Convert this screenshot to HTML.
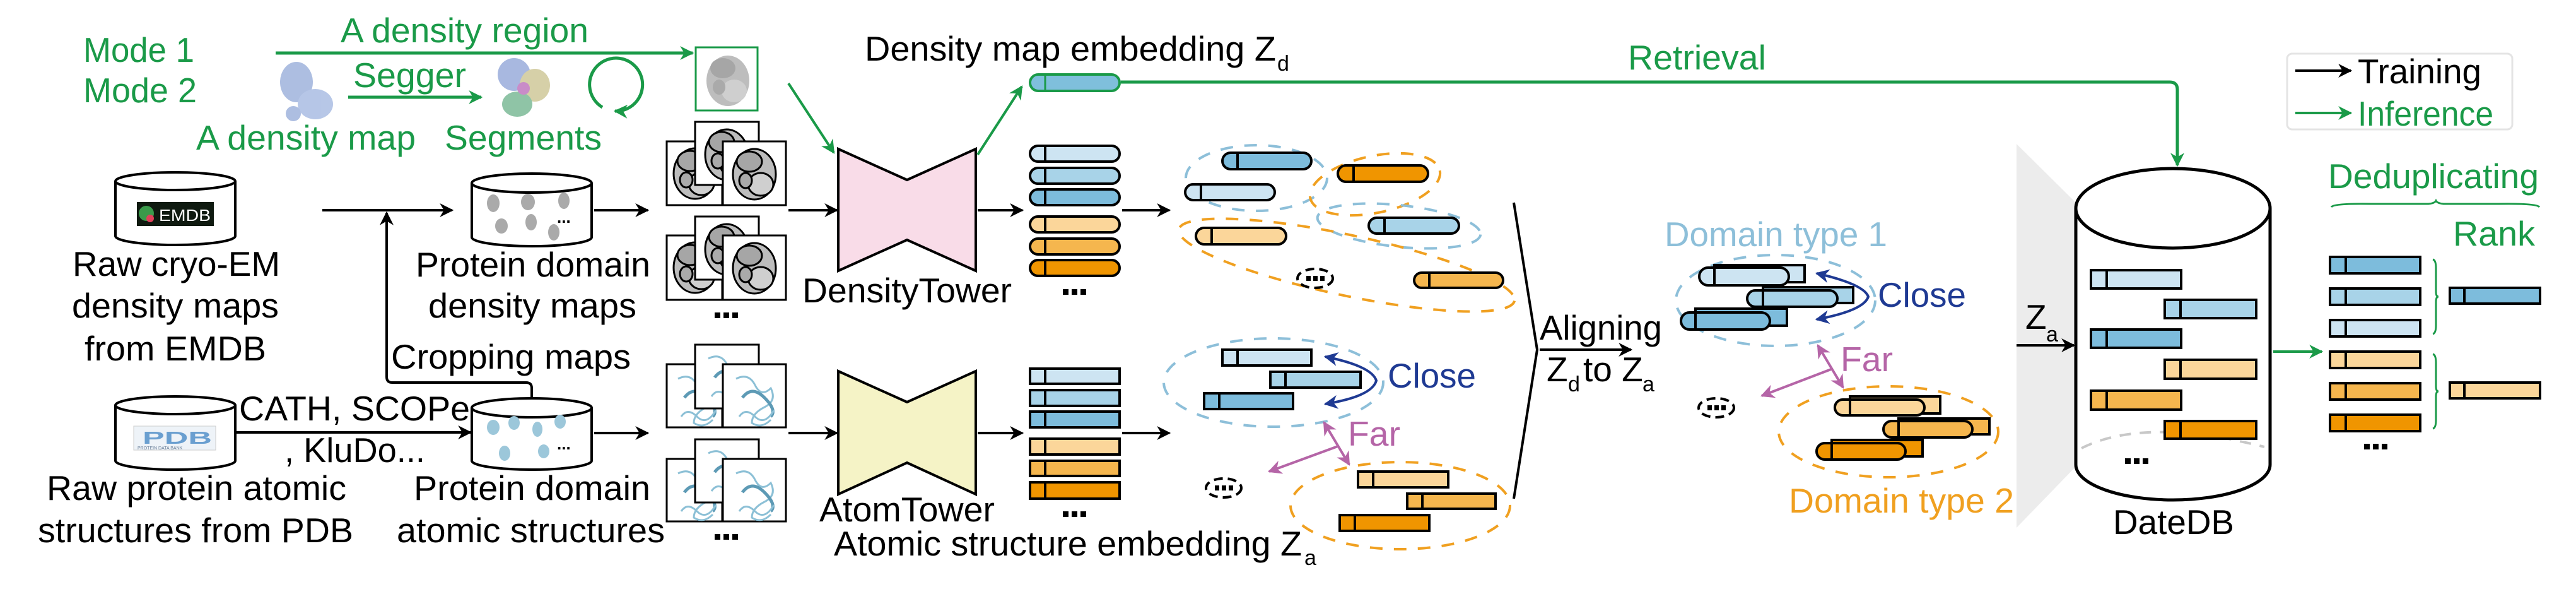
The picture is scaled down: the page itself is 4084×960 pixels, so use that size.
<!DOCTYPE html>
<html><head><meta charset="utf-8"><style>
html,body{margin:0;padding:0;background:#fff;}
svg{display:block;}
text{font-family:"Liberation Sans",Arial,sans-serif;}
</style></head><body>
<svg width="4084" height="960" viewBox="0 0 4084 960" xmlns="http://www.w3.org/2000/svg">
<defs>
<marker id="ab" viewBox="0 0 10 10" refX="9" refY="5" markerWidth="22" markerHeight="22" orient="auto-start-reverse" markerUnits="userSpaceOnUse"><path d="M0,0 L10,5 L0,10 L3,5Z" fill="#000"/></marker>
<marker id="ag" viewBox="0 0 10 10" refX="9" refY="5" markerWidth="22" markerHeight="22" orient="auto-start-reverse" markerUnits="userSpaceOnUse"><path d="M0,0 L10,5 L0,10 L3,5Z" fill="#1a9a48"/></marker>
<marker id="an" viewBox="0 0 10 10" refX="9" refY="5" markerWidth="22" markerHeight="22" orient="auto-start-reverse" markerUnits="userSpaceOnUse"><path d="M0,0 L10,5 L0,10 L3,5Z" fill="#1f3a93"/></marker>
<marker id="ap" viewBox="0 0 10 10" refX="9" refY="5" markerWidth="22" markerHeight="22" orient="auto-start-reverse" markerUnits="userSpaceOnUse"><path d="M0,0 L10,5 L0,10 L3,5Z" fill="#b565a7"/></marker>
<g id="blob"><ellipse cx="44" cy="50" rx="34" ry="40" fill="#bdbdbd"/><ellipse cx="36" cy="30" rx="20" ry="16" fill="#a6a6a6"/><ellipse cx="54" cy="66" rx="20" ry="18" fill="#cfcfcf"/><ellipse cx="30" cy="60" rx="10" ry="12" fill="#aaaaaa"/></g>
<g id="ribbon" fill="none" stroke="#8cc0d6" stroke-width="3"><path d="M15,20 q20,-10 30,10 t25,5 q10,20 -10,30 t-20,25 q15,10 30,-5"/><path d="M25,50 q15,-20 35,0 t10,30" stroke="#5d9ab5" stroke-width="5"/><path d="M20,80 q10,-15 25,0 t30,-10"/></g>
</defs>

<g fill="#1a9a48">
<text x="132" y="98" font-size="55" textLength="176" lengthAdjust="spacingAndGlyphs">Mode 1</text>
<text x="132" y="162" font-size="55" textLength="180" lengthAdjust="spacingAndGlyphs">Mode 2</text>
<text x="540" y="67" font-size="55" textLength="393" lengthAdjust="spacingAndGlyphs">A density region</text>
<text x="560" y="138" font-size="55" textLength="179" lengthAdjust="spacingAndGlyphs">Segger</text>
<text x="311" y="237" font-size="55" textLength="348" lengthAdjust="spacingAndGlyphs">A density map</text>
<text x="705" y="237" font-size="55" textLength="249" lengthAdjust="spacingAndGlyphs">Segments</text>
</g>
<line x1="437" y1="84" x2="1098" y2="84" stroke="#1a9a48" stroke-width="5" marker-end="url(#ag)"/>
<line x1="552" y1="154" x2="763" y2="154" stroke="#1a9a48" stroke-width="5" marker-end="url(#ag)"/>
<g opacity="0.85"><ellipse cx="470" cy="130" rx="26" ry="32" fill="#9fb3dc"/><ellipse cx="500" cy="165" rx="28" ry="24" fill="#aabde3"/><ellipse cx="465" cy="180" rx="12" ry="12" fill="#9fb3dc"/></g>
<g><ellipse cx="815" cy="118" rx="26" ry="26" fill="#a8b8e0"/><ellipse cx="848" cy="135" rx="24" ry="26" fill="#d6d0a8"/><ellipse cx="820" cy="165" rx="24" ry="20" fill="#8fc4a6"/><ellipse cx="830" cy="140" rx="10" ry="10" fill="#c98cc8"/></g>
<path d="M955,170 A42,42 0 1 1 975,176" fill="none" stroke="#1a9a48" stroke-width="5" marker-end="url(#ag)"/>
<rect x="1103" y="75" width="98" height="100" fill="#fff" stroke="#1a9a48" stroke-width="3"/>
<use href="#blob" x="1110" y="78"/>
<line x1="1250" y1="132" x2="1322" y2="242" stroke="#1a9a48" stroke-width="4" marker-end="url(#ag)"/>

<g stroke="#000" stroke-width="4" fill="#fff">
<path d="M183,287 L183,374 A95,14 0 0 0 373,374 L373,287"/>
<ellipse cx="278" cy="287" rx="95" ry="14"/>
</g>
<rect x="217" y="320" width="122" height="38" fill="#0f1a10"/>
<text x="252" y="350" font-size="26" fill="#fff" textLength="82" lengthAdjust="spacingAndGlyphs">EMDB</text>
<circle cx="232" cy="338" r="12" fill="#3a9a4a"/><circle cx="238" cy="346" r="6" fill="#e0405a"/>
<g stroke="#000" stroke-width="4" fill="#fff">
<path d="M183,642 L183,730 A95,14 0 0 0 373,730 L373,642"/>
<ellipse cx="278" cy="642" rx="95" ry="14"/>
</g>
<rect x="212" y="675" width="130" height="38" fill="#eef3f8" stroke="#ccc" stroke-width="1"/>
<text x="226" y="703" font-size="28" font-weight="bold" fill="#6a9fd0" textLength="110" lengthAdjust="spacingAndGlyphs">PDB</text>
<text x="218" y="712" font-size="7" fill="#6a7f99">PROTEIN DATA BANK</text>

<g stroke="#000" stroke-width="4" fill="#fff">
<path d="M748,290 L748,376 A95,14 0 0 0 938,376 L938,290"/>
<ellipse cx="843" cy="290" rx="95" ry="15"/>
<path d="M748,646 L748,730 A95,14 0 0 0 938,730 L938,646"/>
<ellipse cx="843" cy="646" rx="95" ry="15"/>
</g>
<g fill="#aaa"><ellipse cx="782" cy="322" rx="10" ry="14"/><ellipse cx="837" cy="320" rx="11" ry="13"/><ellipse cx="894" cy="318" rx="9" ry="13"/><ellipse cx="795" cy="358" rx="10" ry="12"/><ellipse cx="842" cy="352" rx="9" ry="13"/><ellipse cx="878" cy="368" rx="9" ry="13"/></g>
<g fill="#9cc7da"><ellipse cx="782" cy="677" rx="10" ry="12"/><ellipse cx="815" cy="670" rx="9" ry="11"/><ellipse cx="852" cy="680" rx="8" ry="12"/><ellipse cx="888" cy="668" rx="9" ry="11"/><ellipse cx="800" cy="718" rx="9" ry="12"/><ellipse cx="862" cy="715" rx="9" ry="11"/></g>
<text x="883" y="353" font-size="26" font-weight="bold">...</text>
<text x="883" y="712" font-size="26" font-weight="bold">...</text>

<g fill="#000" font-size="55">
<text x="115" y="437" textLength="329" lengthAdjust="spacingAndGlyphs">Raw cryo-EM</text>
<text x="114" y="503" textLength="328" lengthAdjust="spacingAndGlyphs">density maps</text>
<text x="134" y="571" textLength="288" lengthAdjust="spacingAndGlyphs">from EMDB</text>
<text x="659" y="438" textLength="372" lengthAdjust="spacingAndGlyphs">Protein domain</text>
<text x="679" y="503" textLength="330" lengthAdjust="spacingAndGlyphs">density maps</text>
<text x="620" y="584" textLength="380" lengthAdjust="spacingAndGlyphs">Cropping maps</text>
<text x="379" y="666" textLength="366" lengthAdjust="spacingAndGlyphs">CATH, SCOPe</text>
<text x="451" y="732" textLength="223" lengthAdjust="spacingAndGlyphs">, KluDo...</text>
<text x="74" y="792" textLength="475" lengthAdjust="spacingAndGlyphs">Raw protein atomic</text>
<text x="60" y="859" textLength="500" lengthAdjust="spacingAndGlyphs">structures from PDB</text>
<text x="656" y="792" textLength="375" lengthAdjust="spacingAndGlyphs">Protein domain</text>
<text x="629" y="859" textLength="425" lengthAdjust="spacingAndGlyphs">atomic structures</text>
</g>
<g stroke="#000" stroke-width="4" fill="none">
<line x1="511" y1="333" x2="717" y2="333" marker-end="url(#ab)"/>
<path d="M843,631 L843,615 Q843,606 834,606 L622,606 Q613,606 613,597 L613,337" marker-end="url(#ab)"/>
<line x1="373" y1="685" x2="746" y2="685" marker-end="url(#ab)"/>
<line x1="942" y1="333" x2="1027" y2="333" marker-end="url(#ab)"/>
<line x1="942" y1="686" x2="1027" y2="686" marker-end="url(#ab)"/>
<line x1="1250" y1="333" x2="1327" y2="333" marker-end="url(#ab)"/>
<line x1="1250" y1="686" x2="1327" y2="686" marker-end="url(#ab)"/>
<line x1="1550" y1="333" x2="1621" y2="333" marker-end="url(#ab)"/>
<line x1="1550" y1="686" x2="1621" y2="686" marker-end="url(#ab)"/>
<line x1="1779" y1="333" x2="1854" y2="333" marker-end="url(#ab)"/>
<line x1="1779" y1="686" x2="1854" y2="686" marker-end="url(#ab)"/>
</g>

<g stroke="#000" stroke-width="3" fill="#fff">
<rect x="1057" y="224" width="88" height="101"/><use href="#blob" x="1058" y="225"/>
<rect x="1102" y="193" width="101" height="100" fill="#fff"/><use href="#blob" x="1108" y="195"/>
<rect x="1146" y="224" width="100" height="101" fill="#fff"/><use href="#blob" x="1152" y="226"/>
<rect x="1057" y="373" width="88" height="102"/><use href="#blob" x="1058" y="374"/>
<rect x="1102" y="343" width="101" height="100" fill="#fff"/><use href="#blob" x="1108" y="345"/>
<rect x="1146" y="373" width="100" height="102" fill="#fff"/><use href="#blob" x="1152" y="375"/>
<rect x="1057" y="577" width="88" height="100"/><use href="#ribbon" x="1060" y="580"/>
<rect x="1102" y="546" width="101" height="101" fill="#fff"/><use href="#ribbon" x="1108" y="548"/>
<rect x="1146" y="577" width="100" height="100" fill="#fff"/><use href="#ribbon" x="1152" y="580"/>
<rect x="1057" y="727" width="88" height="99"/><use href="#ribbon" x="1060" y="730"/>
<rect x="1102" y="696" width="101" height="100" fill="#fff"/><use href="#ribbon" x="1108" y="698"/>
<rect x="1146" y="727" width="100" height="99" fill="#fff"/><use href="#ribbon" x="1152" y="730"/>
</g>
<g fill="#000"><rect x="1133" y="495" width="9" height="9"/><rect x="1147" y="495" width="9" height="9"/><rect x="1161" y="495" width="9" height="9"/>
<rect x="1133" y="846" width="9" height="9"/><rect x="1147" y="846" width="9" height="9"/><rect x="1161" y="846" width="9" height="9"/></g>

<polygon points="1329,236 1438,285 1547,236 1547,429 1438,380 1329,429" fill="#f9dce8" stroke="#000" stroke-width="4"/>
<polygon points="1329,588 1438,637 1547,588 1547,783 1438,733 1329,783" fill="#f5f3c6" stroke="#000" stroke-width="4"/>
<text x="1272" y="479" font-size="55" textLength="332" lengthAdjust="spacingAndGlyphs">DensityTower</text>
<text x="1299" y="826" font-size="55" textLength="278" lengthAdjust="spacingAndGlyphs">AtomTower</text>
<line x1="1550" y1="245" x2="1620" y2="137" stroke="#1a9a48" stroke-width="4" marker-end="url(#ag)"/>

<text x="1371" y="96" font-size="55" textLength="652" lengthAdjust="spacingAndGlyphs">Density map embedding Z</text>
<text x="2025" y="112" font-size="34">d</text>
<rect x="1633" y="118" width="142" height="26" rx="13" fill="#7fbfdc" stroke="#1a9a48" stroke-width="4"/>
<line x1="1657" y1="118" x2="1657" y2="144" stroke="#1a9a48" stroke-width="3"/>
<path d="M1777,130 L3440,130 Q3452,130 3452,142 L3452,262" fill="none" stroke="#1a9a48" stroke-width="5" marker-end="url(#ag)"/>
<text x="2581" y="110" font-size="55" fill="#1a9a48" textLength="219" lengthAdjust="spacingAndGlyphs">Retrieval</text>

<g stroke="#000" stroke-width="4">
<rect x="1633" y="231" width="142" height="25" rx="12.5" fill="#cde4f2"/>
<rect x="1633" y="266" width="142" height="25" rx="12.5" fill="#a8d3e8"/>
<rect x="1633" y="300" width="142" height="25" rx="12.5" fill="#7dbcdc"/>
<rect x="1633" y="343" width="142" height="25" rx="12.5" fill="#fbd69a"/>
<rect x="1633" y="378" width="142" height="25" rx="12.5" fill="#f5b64e"/>
<rect x="1633" y="412" width="142" height="25" rx="12.5" fill="#f09500"/>
<path d="M1657,231v25M1657,266v25M1657,300v25M1657,343v25M1657,378v25M1657,412v25"/>
</g>
<g stroke="#000" stroke-width="4">
<rect x="1633" y="584" width="142" height="24" fill="#cde4f2"/>
<rect x="1633" y="618" width="142" height="25" fill="#a8d3e8"/>
<rect x="1633" y="652" width="142" height="25" fill="#7dbcdc"/>
<rect x="1633" y="695" width="142" height="25" fill="#fbd69a"/>
<rect x="1633" y="730" width="142" height="24" fill="#f5b64e"/>
<rect x="1633" y="764" width="142" height="26" fill="#f09500"/>
<path d="M1657,584v24M1657,618v25M1657,652v25M1657,695v25M1657,730v24M1657,764v26"/>
</g>
<g fill="#000"><rect x="1685" y="458" width="9" height="9"/><rect x="1699" y="458" width="9" height="9"/><rect x="1713" y="458" width="9" height="9"/>
<rect x="1685" y="810" width="9" height="9"/><rect x="1699" y="810" width="9" height="9"/><rect x="1713" y="810" width="9" height="9"/></g>
<text x="1322" y="880" font-size="55" textLength="742" lengthAdjust="spacingAndGlyphs">Atomic structure embedding Z</text>
<text x="2068" y="895" font-size="34">a</text>

<g fill="none" stroke-width="4" stroke-dasharray="20,18">
<ellipse cx="1992" cy="282" rx="112" ry="52" stroke="#8dbfd9"/>
<ellipse cx="2180" cy="292" rx="105" ry="45" transform="rotate(-12 2180 292)" stroke="#f0a020"/>
<ellipse cx="2218" cy="358" rx="130" ry="33" transform="rotate(6 2218 358)" stroke="#8dbfd9"/>
<ellipse cx="2135" cy="420" rx="272" ry="48" transform="rotate(12 2135 420)" stroke="#f0a020"/>
</g>
<g stroke="#000" stroke-width="4">
<rect x="1938" y="242" width="141" height="26" rx="13" fill="#7dbcdc"/><line x1="1962" y1="242" x2="1962" y2="268"/>
<rect x="2121" y="262" width="143" height="26" rx="13" fill="#f09500"/><line x1="2146" y1="262" x2="2146" y2="288"/>
<rect x="1879" y="292" width="142" height="25" rx="12.5" fill="#cde4f2"/><line x1="1904" y1="292" x2="1904" y2="317"/>
<rect x="2170" y="345" width="143" height="25" rx="12.5" fill="#a8d3e8"/><line x1="2195" y1="345" x2="2195" y2="370"/>
<rect x="1896" y="361" width="143" height="26" rx="13" fill="#fbd69a"/><line x1="1921" y1="361" x2="1921" y2="387"/>
<rect x="2242" y="432" width="141" height="24" rx="12" fill="#f5b64e"/><line x1="2266" y1="432" x2="2266" y2="456"/>
</g>
<g><ellipse cx="2085" cy="441" rx="28" ry="15" fill="none" stroke="#000" stroke-width="4" stroke-dasharray="14,8"/><rect x="2071" y="437" width="7" height="8"/><rect x="2082" y="437" width="7" height="8"/><rect x="2093" y="437" width="7" height="8"/></g>

<ellipse cx="2019" cy="606" rx="174" ry="70" fill="none" stroke="#8dbfd9" stroke-width="4" stroke-dasharray="20,18"/>
<ellipse cx="2220" cy="801" rx="174" ry="69" fill="none" stroke="#f0a020" stroke-width="4" stroke-dasharray="20,18"/>
<g stroke="#000" stroke-width="4">
<rect x="1938" y="554" width="141" height="25" fill="#cde4f2"/><line x1="1962" y1="554" x2="1962" y2="579"/>
<rect x="2014" y="589" width="143" height="25" fill="#a8d3e8"/><line x1="2038" y1="589" x2="2038" y2="614"/>
<rect x="1909" y="623" width="141" height="25" fill="#7dbcdc"/><line x1="1933" y1="623" x2="1933" y2="648"/>
<rect x="2153" y="747" width="143" height="25" fill="#fbd69a"/><line x1="2177" y1="747" x2="2177" y2="772"/>
<rect x="2231" y="782" width="140" height="24" fill="#f5b64e"/><line x1="2255" y1="782" x2="2255" y2="806"/>
<rect x="2124" y="816" width="142" height="25" fill="#f09500"/><line x1="2148" y1="816" x2="2148" y2="841"/>
</g>
<path d="M2101,565 Q2175,580 2182,603 Q2175,628 2101,640" fill="none" stroke="#1f3a93" stroke-width="4" marker-start="url(#an)" marker-end="url(#an)"/>
<text x="2200" y="614" font-size="55" fill="#1f3a93" textLength="140" lengthAdjust="spacingAndGlyphs">Close</text>
<text x="2137" y="706" font-size="55" fill="#b565a7" textLength="83" lengthAdjust="spacingAndGlyphs">Far</text>
<line x1="2099" y1="669" x2="2139" y2="736" stroke="#b565a7" stroke-width="4" marker-start="url(#ap)" marker-end="url(#ap)"/>
<line x1="2121" y1="707" x2="2012" y2="747" stroke="#b565a7" stroke-width="4" marker-end="url(#ap)"/>
<g><ellipse cx="1940" cy="773" rx="28" ry="15" fill="none" stroke="#000" stroke-width="4" stroke-dasharray="14,8"/><rect x="1926" y="769" width="7" height="8"/><rect x="1937" y="769" width="7" height="8"/><rect x="1948" y="769" width="7" height="8"/></g>

<polyline points="2400,321 2437,554 2400,790" fill="none" stroke="#000" stroke-width="4"/>
<text x="2441" y="538" font-size="55" textLength="194" lengthAdjust="spacingAndGlyphs">Aligning</text>
<line x1="2441" y1="554" x2="2586" y2="554" stroke="#000" stroke-width="4" marker-end="url(#ab)"/>
<text x="2452" y="604" font-size="55">Z</text><text x="2486" y="620" font-size="34">d</text>
<text x="2510" y="604" font-size="55">to Z</text><text x="2604" y="620" font-size="34">a</text>

<text x="2639" y="390" font-size="55" fill="#8dbfd9" textLength="353" lengthAdjust="spacingAndGlyphs">Domain type 1</text>
<ellipse cx="2815" cy="476" rx="158" ry="72" fill="none" stroke="#8dbfd9" stroke-width="4" stroke-dasharray="20,18"/>
<g stroke="#000" stroke-width="4">
<rect x="2718" y="420" width="143" height="27" fill="#cde4f2"/><rect x="2694" y="424" width="142" height="28" rx="14" fill="#cde4f2"/><line x1="2718" y1="420" x2="2718" y2="452"/>
<rect x="2795" y="455" width="143" height="25" fill="#a8d3e8"/><rect x="2770" y="460" width="143" height="26" rx="13" fill="#a8d3e8"/><line x1="2795" y1="455" x2="2795" y2="486"/>
<rect x="2688" y="489" width="145" height="27" fill="#7dbcdc"/><rect x="2665" y="495" width="141" height="27" rx="13.5" fill="#7dbcdc"/><line x1="2688" y1="489" x2="2688" y2="522"/>
</g>
<path d="M2880,433 Q2955,450 2962,470 Q2955,492 2880,506" fill="none" stroke="#1f3a93" stroke-width="4" marker-start="url(#an)" marker-end="url(#an)"/>
<text x="2977" y="486" font-size="55" fill="#1f3a93" textLength="140" lengthAdjust="spacingAndGlyphs">Close</text>
<text x="2918" y="588" font-size="55" fill="#b565a7" textLength="83" lengthAdjust="spacingAndGlyphs">Far</text>
<line x1="2882" y1="547" x2="2922" y2="614" stroke="#b565a7" stroke-width="4" marker-start="url(#ap)" marker-end="url(#ap)"/>
<line x1="2903" y1="585" x2="2793" y2="627" stroke="#b565a7" stroke-width="4" marker-end="url(#ap)"/>
<g><ellipse cx="2721" cy="646" rx="28" ry="15" fill="none" stroke="#000" stroke-width="4" stroke-dasharray="14,8"/><rect x="2707" y="642" width="7" height="8"/><rect x="2718" y="642" width="7" height="8"/><rect x="2729" y="642" width="7" height="8"/></g>
<ellipse cx="2994" cy="684" rx="174" ry="72" fill="none" stroke="#f0a020" stroke-width="4" stroke-dasharray="20,18"/>
<g stroke="#000" stroke-width="4">
<rect x="2933" y="628" width="143" height="27" fill="#fbd69a"/><rect x="2909" y="633" width="142" height="25" rx="12.5" fill="#fbd69a"/><line x1="2933" y1="628" x2="2933" y2="658"/>
<rect x="3010" y="663" width="144" height="25" fill="#f5b64e"/><rect x="2986" y="667" width="141" height="26" rx="13" fill="#f5b64e"/><line x1="3010" y1="663" x2="3010" y2="693"/>
<rect x="2904" y="697" width="144" height="26" fill="#f09500"/><rect x="2880" y="702" width="141" height="26" rx="13" fill="#f09500"/><line x1="2904" y1="697" x2="2904" y2="728"/>
</g>
<text x="2836" y="812" font-size="55" fill="#f0a020" textLength="357" lengthAdjust="spacingAndGlyphs">Domain type 2</text>

<polygon points="3197,228 3292,322 3292,738 3197,836" fill="#ececec"/>
<text x="3211" y="521" font-size="55">Z</text><text x="3244" y="541" font-size="34">a</text>
<line x1="3197" y1="547" x2="3288" y2="547" stroke="#000" stroke-width="4" marker-end="url(#ab)"/>

<path d="M3291,330 L3291,736 A154,56 0 0 0 3599,736 L3599,330" fill="#fff" stroke="#000" stroke-width="5"/>
<ellipse cx="3445" cy="330" rx="154" ry="63" fill="#fff" stroke="#000" stroke-width="5"/>
<path d="M3300,710 Q3400,660 3590,708" fill="none" stroke="#c8c8c8" stroke-width="4" stroke-dasharray="18,14"/>
<g stroke="#000" stroke-width="4">
<rect x="3315" y="428" width="143" height="29" fill="#cde4f2"/><line x1="3340" y1="428" x2="3340" y2="457"/>
<rect x="3432" y="475" width="145" height="29" fill="#a8d3e8"/><line x1="3457" y1="475" x2="3457" y2="504"/>
<rect x="3315" y="522" width="143" height="29" fill="#7dbcdc"/><line x1="3340" y1="522" x2="3340" y2="551"/>
<rect x="3432" y="570" width="145" height="30" fill="#fbd69a"/><line x1="3457" y1="570" x2="3457" y2="600"/>
<rect x="3315" y="619" width="143" height="30" fill="#f5b64e"/><line x1="3340" y1="619" x2="3340" y2="649"/>
<rect x="3432" y="667" width="145" height="28" fill="#f09500"/><line x1="3457" y1="667" x2="3457" y2="695"/>
</g>
<g fill="#000"><rect x="3369" y="726" width="9" height="9"/><rect x="3383" y="726" width="9" height="9"/><rect x="3397" y="726" width="9" height="9"/></g>
<text x="3350" y="846" font-size="55" textLength="192" lengthAdjust="spacingAndGlyphs">DateDB</text>
<line x1="3604" y1="557" x2="3681" y2="557" stroke="#1a9a48" stroke-width="4" marker-end="url(#ag)"/>

<rect x="3626" y="85" width="357" height="120" rx="8" fill="#fff" stroke="#e4e4e4" stroke-width="3"/>
<line x1="3639" y1="112" x2="3727" y2="112" stroke="#000" stroke-width="4" marker-end="url(#ab)"/>
<line x1="3639" y1="179" x2="3727" y2="179" stroke="#1a9a48" stroke-width="4" marker-end="url(#ag)"/>
<text x="3738" y="132" font-size="55" textLength="196" lengthAdjust="spacingAndGlyphs">Training</text>
<text x="3738" y="199" font-size="55" fill="#1a9a48" textLength="215" lengthAdjust="spacingAndGlyphs">Inference</text>

<text x="3691" y="298" font-size="55" fill="#1a9a48" textLength="334" lengthAdjust="spacingAndGlyphs">Deduplicating</text>
<path d="M3696,328 Q3700,322 3760,323 L3850,323 Q3860,322 3862,318 Q3864,322 3874,323 L3960,323 Q4022,322 4026,328" fill="none" stroke="#1a9a48" stroke-width="3"/>
<text x="3889" y="389" font-size="55" fill="#1a9a48" textLength="130" lengthAdjust="spacingAndGlyphs">Rank</text>
<g stroke="#000" stroke-width="4">
<rect x="3694" y="407" width="143" height="26" fill="#7dbcdc"/><line x1="3719" y1="407" x2="3719" y2="433"/>
<rect x="3694" y="457" width="143" height="26" fill="#a8d3e8"/><line x1="3719" y1="457" x2="3719" y2="483"/>
<rect x="3694" y="507" width="143" height="26" fill="#cde4f2"/><line x1="3719" y1="507" x2="3719" y2="533"/>
<rect x="3694" y="557" width="143" height="26" fill="#fbd69a"/><line x1="3719" y1="557" x2="3719" y2="583"/>
<rect x="3694" y="607" width="143" height="26" fill="#f5b64e"/><line x1="3719" y1="607" x2="3719" y2="633"/>
<rect x="3694" y="657" width="143" height="26" fill="#f09500"/><line x1="3719" y1="657" x2="3719" y2="683"/>
<rect x="3884" y="456" width="143" height="25" fill="#7dbcdc"/><line x1="3907" y1="456" x2="3907" y2="481"/>
<rect x="3884" y="606" width="143" height="25" fill="#fbd69a"/><line x1="3907" y1="606" x2="3907" y2="631"/>
</g>
<path d="M3857,411 Q3862,412 3862,425 L3862,462 Q3862,470 3866,470 Q3862,470 3862,478 L3862,515 Q3862,528 3857,529" fill="none" stroke="#1a9a48" stroke-width="3"/>
<path d="M3857,561 Q3862,562 3862,575 L3862,612 Q3862,620 3866,620 Q3862,620 3862,628 L3862,665 Q3862,678 3857,679" fill="none" stroke="#1a9a48" stroke-width="3"/>
<g fill="#000"><rect x="3748" y="703" width="9" height="9"/><rect x="3762" y="703" width="9" height="9"/><rect x="3776" y="703" width="9" height="9"/></g>
</svg>
</body></html>
